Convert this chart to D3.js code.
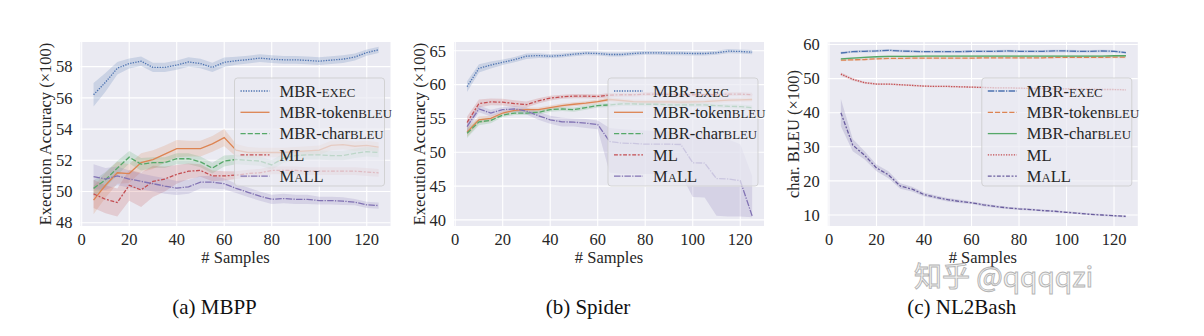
<!DOCTYPE html>
<html>
<head>
<meta charset="utf-8">
<script src="https://cdn.jsdelivr.net/npm/d3@7"></script>
<style>
  body { margin: 0; background: #fff; }
  svg { display: block; }
</style>
</head>
<body>
<div id="chart"></div>
<script>
// number of samples on the x axis (same for every panel)
const samples = [5, 10, 15, 20, 25, 30, 35, 40, 45, 50, 55, 60, 65, 70, 75, 80, 85, 90, 95, 100, 105, 110, 115, 120, 125];
const xTicks = [0, 20, 40, 60, 80, 100, 120];

// (a) MBPP
const mbppExec = [56.2, 57.0, 57.9, 58.2, 58.35, 57.95, 57.95, 58.1, 58.3, 58.2, 57.95, 58.28, 58.38, 58.45, 58.55, 58.48, 58.44, 58.44, 58.4, 58.35, 58.42, 58.48, 58.62, 58.9, 59.08];
const mbppExecErr = [0.75, 0.6, 0.4, 0.32, 0.3, 0.3, 0.3, 0.3, 0.3, 0.3, 0.3, 0.3, 0.25, 0.25, 0.25, 0.25, 0.25, 0.25, 0.25, 0.25, 0.25, 0.25, 0.22, 0.2, 0.2];
const mbppToken = [49.45, 50.4, 51.2, 51.15, 51.85, 52.05, 52.4, 52.75, 52.75, 52.75, 53.05, 53.45, 52.65, 52.5, 52.5, 52.5, 52.5, 52.55, 52.6, 52.65, 52.95, 53.0, 52.9, 52.95, 52.85];
const mbppTokenErr = [0.9, 0.8, 0.7, 0.6, 0.6, 0.6, 0.55, 0.55, 0.5, 0.5, 0.5, 0.55, 0.4, 0.35, 0.3, 0.3, 0.3, 0.3, 0.3, 0.3, 0.3, 0.3, 0.3, 0.3, 0.3];
const mbppChar = [50.2, 50.75, 51.5, 52.2, 51.75, 51.85, 51.85, 52.1, 52.1, 51.9, 51.5, 51.95, 52.05, 52.0, 51.95, 51.7, 52.15, 52.3, 52.35, 52.35, 52.3, 52.3, 52.45, 52.55, 52.5];
const mbppCharErr = [0.5, 0.5, 0.45, 0.4, 0.4, 0.35, 0.35, 0.35, 0.35, 0.35, 0.35, 0.35, 0.3, 0.3, 0.3, 0.3, 0.3, 0.3, 0.3, 0.3, 0.3, 0.3, 0.3, 0.3, 0.3];
const mbppMl = [49.85, 49.5, 49.3, 50.4, 50.1, 50.65, 50.8, 51.1, 51.3, 51.35, 51.0, 51.0, 51.05, 51.15, 51.2, 51.35, 51.35, 51.35, 51.3, 51.3, 51.3, 51.3, 51.3, 51.25, 51.2];
const mbppMlErr = [0.9, 0.9, 0.9, 1.0, 1.1, 1.0, 0.8, 0.6, 0.5, 0.4, 0.35, 0.3, 0.25, 0.25, 0.25, 0.25, 0.25, 0.25, 0.25, 0.25, 0.25, 0.25, 0.25, 0.25, 0.25];
const mbppMall = [50.95, 50.8, 51.0, 50.8, 50.65, 50.5, 50.35, 50.22, 50.3, 50.6, 50.6, 50.5, 50.2, 49.95, 49.7, 49.5, 49.55, 49.5, 49.5, 49.42, 49.42, 49.38, 49.32, 49.15, 49.1];
const mbppMallErr = [0.8, 0.7, 0.6, 0.55, 0.5, 0.5, 0.5, 0.45, 0.45, 0.4, 0.4, 0.35, 0.3, 0.3, 0.3, 0.3, 0.3, 0.3, 0.3, 0.25, 0.25, 0.25, 0.2, 0.2, 0.2];

// (b) Spider
const spiderExec = [59.7, 62.4, 62.9, 63.3, 63.7, 64.2, 64.3, 64.2, 64.3, 64.5, 64.65, 64.6, 64.45, 64.45, 64.6, 64.7, 64.7, 64.65, 64.65, 64.6, 64.6, 64.7, 64.95, 64.9, 64.8];
const spiderExecErr = [0.8, 0.6, 0.5, 0.4, 0.4, 0.4, 0.35, 0.3, 0.3, 0.3, 0.3, 0.3, 0.3, 0.3, 0.3, 0.3, 0.3, 0.3, 0.3, 0.3, 0.3, 0.3, 0.3, 0.3, 0.3];
const spiderToken = [53.0, 54.8, 55.0, 55.8, 56.2, 56.3, 56.3, 56.6, 56.9, 57.1, 57.25, 57.5, 57.8, 57.65, 57.5, 57.45, 57.45, 57.45, 57.4, 57.45, 57.5, 57.6, 57.7, 57.75, 57.8];
const spiderTokenErr = [0.7, 0.5, 0.4, 0.3, 0.3, 0.3, 0.3, 0.3, 0.3, 0.3, 0.3, 0.3, 0.3, 0.3, 0.3, 0.3, 0.3, 0.3, 0.3, 0.3, 0.3, 0.3, 0.3, 0.3, 0.3];
const spiderChar = [52.8, 54.5, 54.7, 55.5, 55.8, 55.8, 55.9, 56.3, 56.4, 56.3, 56.6, 56.9, 57.0, 57.15, 57.15, 57.1, 57.1, 57.0, 57.0, 57.0, 57.0, 56.9, 56.8, 56.75, 56.6];
const spiderCharErr = [0.7, 0.5, 0.4, 0.3, 0.3, 0.3, 0.3, 0.3, 0.3, 0.3, 0.3, 0.3, 0.3, 0.3, 0.3, 0.3, 0.3, 0.3, 0.3, 0.3, 0.3, 0.3, 0.3, 0.3, 0.3];
const spiderMl = [54.4, 57.2, 57.45, 57.4, 57.2, 57.05, 57.6, 58.0, 58.2, 58.3, 58.3, 58.25, 58.45, 58.5, 58.5, 58.6, 58.6, 58.55, 58.5, 58.5, 58.5, 58.5, 58.6, 58.6, 58.5];
const spiderMlErr = [0.9, 0.6, 0.5, 0.5, 0.5, 0.45, 0.4, 0.35, 0.3, 0.3, 0.3, 0.3, 0.3, 0.3, 0.3, 0.3, 0.3, 0.3, 0.3, 0.3, 0.3, 0.3, 0.3, 0.3, 0.3];
const spiderMall = [53.8, 56.4, 55.8, 56.3, 56.4, 56.1, 55.4, 54.8, 54.5, 54.45, 54.3, 54.1, 51.6, 51.35, 51.3, 51.2, 51.2, 51.2, 51.15, 48.45, 48.4, 46.1, 46.05, 45.8, 40.6];
const spiderMallLo = [53.1, 55.9, 55.3, 55.9, 56.0, 55.6, 54.8, 54.2, 53.8, 53.8, 53.6, 53.4, 47.0, 46.8, 46.8, 46.8, 46.8, 46.8, 46.8, 43.4, 43.3, 40.6, 40.5, 40.5, 40.4];
const spiderMallHi = [54.5, 56.9, 56.3, 56.7, 56.8, 56.6, 56.0, 55.4, 55.1, 55.0, 54.9, 54.7, 53.6, 53.4, 53.3, 53.2, 53.1, 53.1, 53.1, 52.8, 52.7, 52.1, 51.9, 51.2, 46.5];

// (c) NL2Bash
const bashExec = [57.5, 57.9, 58.0, 58.1, 58.3, 58.1, 58.0, 57.9, 57.9, 57.9, 57.9, 58.0, 58.0, 58.0, 58.1, 58.0, 58.0, 58.0, 58.1, 58.1, 58.0, 58.0, 58.1, 58.0, 57.6];
const bashExecErr = [0.35, 0.35, 0.35, 0.35, 0.35, 0.35, 0.35, 0.35, 0.35, 0.35, 0.35, 0.35, 0.35, 0.35, 0.35, 0.35, 0.35, 0.35, 0.35, 0.35, 0.35, 0.35, 0.35, 0.35, 0.35];
const bashToken = [55.4, 55.5, 55.6, 55.8, 55.9, 55.9, 56.0, 56.0, 56.0, 56.0, 56.0, 56.0, 56.1, 56.1, 56.1, 56.1, 56.1, 56.1, 56.2, 56.2, 56.2, 56.2, 56.2, 56.3, 56.3];
const bashTokenErr = [0.3, 0.3, 0.3, 0.3, 0.3, 0.3, 0.3, 0.3, 0.3, 0.3, 0.3, 0.3, 0.3, 0.3, 0.3, 0.3, 0.3, 0.3, 0.3, 0.3, 0.3, 0.3, 0.3, 0.3, 0.3];
const bashChar = [55.8, 56.0, 56.2, 56.4, 56.5, 56.5, 56.5, 56.6, 56.6, 56.6, 56.6, 56.6, 56.6, 56.6, 56.6, 56.6, 56.6, 56.6, 56.6, 56.6, 56.6, 56.6, 56.6, 56.7, 56.7];
const bashCharErr = [0.25, 0.25, 0.25, 0.25, 0.25, 0.25, 0.25, 0.25, 0.25, 0.25, 0.25, 0.25, 0.25, 0.25, 0.25, 0.25, 0.25, 0.25, 0.25, 0.25, 0.25, 0.25, 0.25, 0.25, 0.25];
const bashMl = [51.3, 49.8, 48.8, 48.4, 48.4, 48.2, 48.0, 47.8, 47.7, 47.7, 47.6, 47.5, 47.4, 47.3, 47.3, 47.2, 47.1, 47.1, 47.0, 47.0, 46.9, 46.9, 46.8, 46.8, 46.7];
const bashMlErr = [0.5, 0.4, 0.3, 0.3, 0.25, 0.25, 0.25, 0.25, 0.25, 0.25, 0.25, 0.25, 0.25, 0.25, 0.25, 0.25, 0.25, 0.25, 0.25, 0.25, 0.25, 0.25, 0.25, 0.25, 0.25];
const bashMall = [40.0, 30.5, 27.5, 23.8, 21.8, 18.5, 17.6, 16.0, 15.2, 14.5, 14.0, 13.6, 13.0, 12.5, 12.1, 11.8, 11.6, 11.3, 11.1, 10.8, 10.5, 10.2, 10.0, 9.8, 9.6];
const bashMallErr = [4.0, 1.8, 1.2, 1.0, 1.0, 0.8, 0.7, 0.6, 0.5, 0.5, 0.45, 0.4, 0.4, 0.35, 0.35, 0.3, 0.3, 0.3, 0.3, 0.3, 0.3, 0.3, 0.3, 0.3, 0.3];

const mbppYTicks = [48, 50, 52, 54, 56, 58];
const spiderYTicks = [40, 45, 50, 55, 60, 65];
const bashYTicks = [10, 20, 30, 40, 50, 60];

// legend labels: [text, smallcaps?]
const legendLabels = [
  [["MBR-", false], ["exec", true]],
  [["MBR-token", false], ["bleu", true]],
  [["MBR-char", false], ["bleu", true]],
  [["ML", false]],
  [["M", false], ["a", true], ["LL", false]]
];

// seaborn "deep" colours and dash patterns
const colors = { exec: "#4C72B0", token: "#DD8452", char: "#55A868", ml: "#C44E52", mall: "#8172B3" };
const lw = 1.3;
const dash = {
  solid: null,
  dashed: [4, 1.5].map(d => d * lw).join(","),
  dotted: [1, 1].map(d => d * lw).join(","),
  dashdot: [3, 1.25, 1.5, 1.25].map(d => d * lw).join(","),
  longdot: [5, 1, 1, 1].map(d => d * lw).join(",")
};

function band(mean, err) {
  return { lo: mean.map((v, i) => v - err[i]), hi: mean.map((v, i) => v + err[i]) };
}

const panels = [
  {
    left: 80.5, yDomain: [47.79, 59.58], yTicks: mbppYTicks,
    yLabel: "Execution Accuracy (\u00d7100)", caption: "(a) MBPP",
    series: [
      { values: mbppExec, band: band(mbppExec, mbppExecErr), color: colors.exec, dash: dash.dotted },
      { values: mbppToken, band: band(mbppToken, mbppTokenErr), color: colors.token, dash: dash.solid },
      { values: mbppChar, band: band(mbppChar, mbppCharErr), color: colors.char, dash: dash.dashed },
      { values: mbppMl, band: band(mbppMl, mbppMlErr), color: colors.ml, dash: dash.dashdot },
      { values: mbppMall, band: band(mbppMall, mbppMallErr), color: colors.mall, dash: dash.longdot }
    ]
  },
  {
    left: 454, yDomain: [39.1, 66.3], yTicks: spiderYTicks,
    yLabel: "Execution Accuracy (\u00d7100)", caption: "(b) Spider",
    series: [
      { values: spiderExec, band: band(spiderExec, spiderExecErr), color: colors.exec, dash: dash.dotted },
      { values: spiderToken, band: band(spiderToken, spiderTokenErr), color: colors.token, dash: dash.solid },
      { values: spiderChar, band: band(spiderChar, spiderCharErr), color: colors.char, dash: dash.dashed },
      { values: spiderMl, band: band(spiderMl, spiderMlErr), color: colors.ml, dash: dash.dashdot },
      { values: spiderMall, band: { lo: spiderMallLo, hi: spiderMallHi }, color: colors.mall, dash: dash.longdot }
    ]
  },
  {
    left: 827.8, yDomain: [6.78, 60.73], yTicks: bashYTicks,
    yLabel: "char. BLEU (\u00d7100)", caption: "(c) NL2Bash",
    series: [
      { values: bashExec, band: band(bashExec, bashExecErr), color: colors.exec, dash: dash.longdot },
      { values: bashToken, band: band(bashToken, bashTokenErr), color: colors.token, dash: dash.dashed },
      { values: bashChar, band: band(bashChar, bashCharErr), color: colors.char, dash: dash.solid },
      { values: bashMl, band: band(bashMl, bashMlErr), color: colors.ml, dash: dash.dotted },
      { values: bashMall, band: band(bashMall, bashMallErr), color: "#6a5d9e", dash: dash.dashdot }
    ]
  }
];

const W = 1204, H = 336;
const plotW = 310, plotTop = 42, plotH = 184;
const fontSize = 16.5;
const serif = "'Liberation Serif', 'Times New Roman', Tinos, 'DejaVu Serif', serif";

const svg = d3.select("#chart").append("svg")
  .attr("width", W)
  .attr("height", H)
  .attr("font-family", serif)
  .style("font-family", serif);
svg.append("rect").attr("width", W).attr("height", H).attr("fill", "#fff");

panels.forEach((p, pi) => {
  const g = svg.append("g").attr("transform", `translate(${p.left},${plotTop})`);

  const x = d3.scaleLinear().domain([-0.5, 130]).range([0, plotW]);
  const y = d3.scaleLinear().domain(p.yDomain).range([plotH, 0]);

  // axes background + white grid
  g.append("rect").attr("width", plotW).attr("height", plotH).attr("fill", "#EAEAF2");

  const clipId = "clip" + pi;
  g.append("clipPath").attr("id", clipId)
    .append("rect").attr("width", plotW).attr("height", plotH);

  g.append("g").selectAll("line").data(xTicks).join("line")
    .attr("x1", d => x(d)).attr("x2", d => x(d))
    .attr("y1", 0).attr("y2", plotH)
    .attr("stroke", "#fff").attr("stroke-width", 1.1);
  g.append("g").selectAll("line").data(p.yTicks).join("line")
    .attr("x1", 0).attr("x2", plotW)
    .attr("y1", d => y(d)).attr("y2", d => y(d))
    .attr("stroke", "#fff").attr("stroke-width", 1.1);

  // tick labels
  g.append("g").selectAll("text").data(xTicks).join("text")
    .attr("x", d => x(d)).attr("y", plotH + 13.5)
    .attr("dy", "0.35em")
    .attr("text-anchor", "middle")
    .attr("fill", "#262626")
    .style("font-size", fontSize + "px")
    .text(d => d);
  g.append("g").selectAll("text").data(p.yTicks).join("text")
    .attr("x", -8).attr("y", d => y(d))
    .attr("dy", "0.35em")
    .attr("text-anchor", "end")
    .attr("fill", "#262626")
    .style("font-size", fontSize + "px")
    .text(d => d);

  // axis titles
  g.append("text")
    .attr("x", plotW / 2).attr("y", plotH + 31)
    .attr("dy", "0.35em")
    .attr("text-anchor", "middle")
    .attr("fill", "#262626")
    .style("font-size", fontSize + "px")
    .text("# Samples");
  g.append("text")
    .attr("transform", "rotate(-90)")
    .attr("x", -plotH / 2).attr("y", -35)
    .attr("dy", "0.35em")
    .attr("text-anchor", "middle")
    .attr("fill", "#262626")
    .style("font-size", fontSize + "px")
    .text(p.yLabel);

  // caption below the panel
  g.append("text")
    .attr("x", 134).attr("y", 265)
    .attr("dy", "0.35em")
    .attr("text-anchor", "middle")
    .attr("fill", "#111")
    .style("font-size", "21px")
    .text(p.caption);

  const plot = g.append("g").attr("clip-path", `url(#${clipId})`);

  // confidence bands
  const area = d3.area()
    .x((d, i) => x(samples[i]))
    .y0(d => y(d[0]))
    .y1(d => y(d[1]));
  p.series.forEach(s => {
    plot.append("path")
      .datum(s.band.lo.map((v, i) => [v, s.band.hi[i]]))
      .attr("fill", s.color)
      .attr("fill-opacity", 0.2)
      .attr("d", area);
  });

  // mean lines
  const line = d3.line()
    .x((d, i) => x(samples[i]))
    .y(d => y(d));
  p.series.forEach(s => {
    plot.append("path")
      .datum(s.values)
      .attr("fill", "none")
      .attr("stroke", s.color)
      .attr("stroke-width", lw)
      .attr("stroke-dasharray", s.dash)
      .attr("d", line);
  });

  // legend
  const lgW = 150, lgH = 108;
  const legend = g.append("g").attr("transform", `translate(${plotW - 6 - lgW},36)`);
  legend.append("rect")
    .attr("width", lgW).attr("height", lgH).attr("rx", 3)
    .attr("fill", "#EAEAF2").attr("fill-opacity", 0.7)
    .attr("stroke", "#cccccc").attr("stroke-opacity", 0.8);
  p.series.forEach((s, i) => {
    const cy = 13 + i * 21.3;
    legend.append("line")
      .attr("x1", 6).attr("x2", 35)
      .attr("y1", cy).attr("y2", cy)
      .attr("stroke", s.color)
      .attr("stroke-width", lw)
      .attr("stroke-dasharray", s.dash);
    const t = legend.append("text")
      .attr("x", 45).attr("y", cy)
      .attr("dy", "0.35em")
      .attr("fill", "#262626")
      .style("font-size", fontSize + "px");
    legendLabels[i].forEach(([str, sc]) => {
      t.append("tspan")
        .style("font-size", sc ? (fontSize * 0.78) + "px" : null)
        .text(sc ? str.toUpperCase() : str);
    });
  });
});

// watermark
svg.append("text")
  .attr("x", 914).attr("y", 287)
  .attr("fill", "#f2f2f2")
  .attr("stroke", "#b4b4b4")
  .attr("stroke-width", 0.9)
  .style("font-family", "'Noto Sans CJK SC', 'Noto Sans', sans-serif")
  .style("font-size", "28px")
  .text("\u77e5\u4e4e @qqqqzi");
</script>
</body>
</html>
